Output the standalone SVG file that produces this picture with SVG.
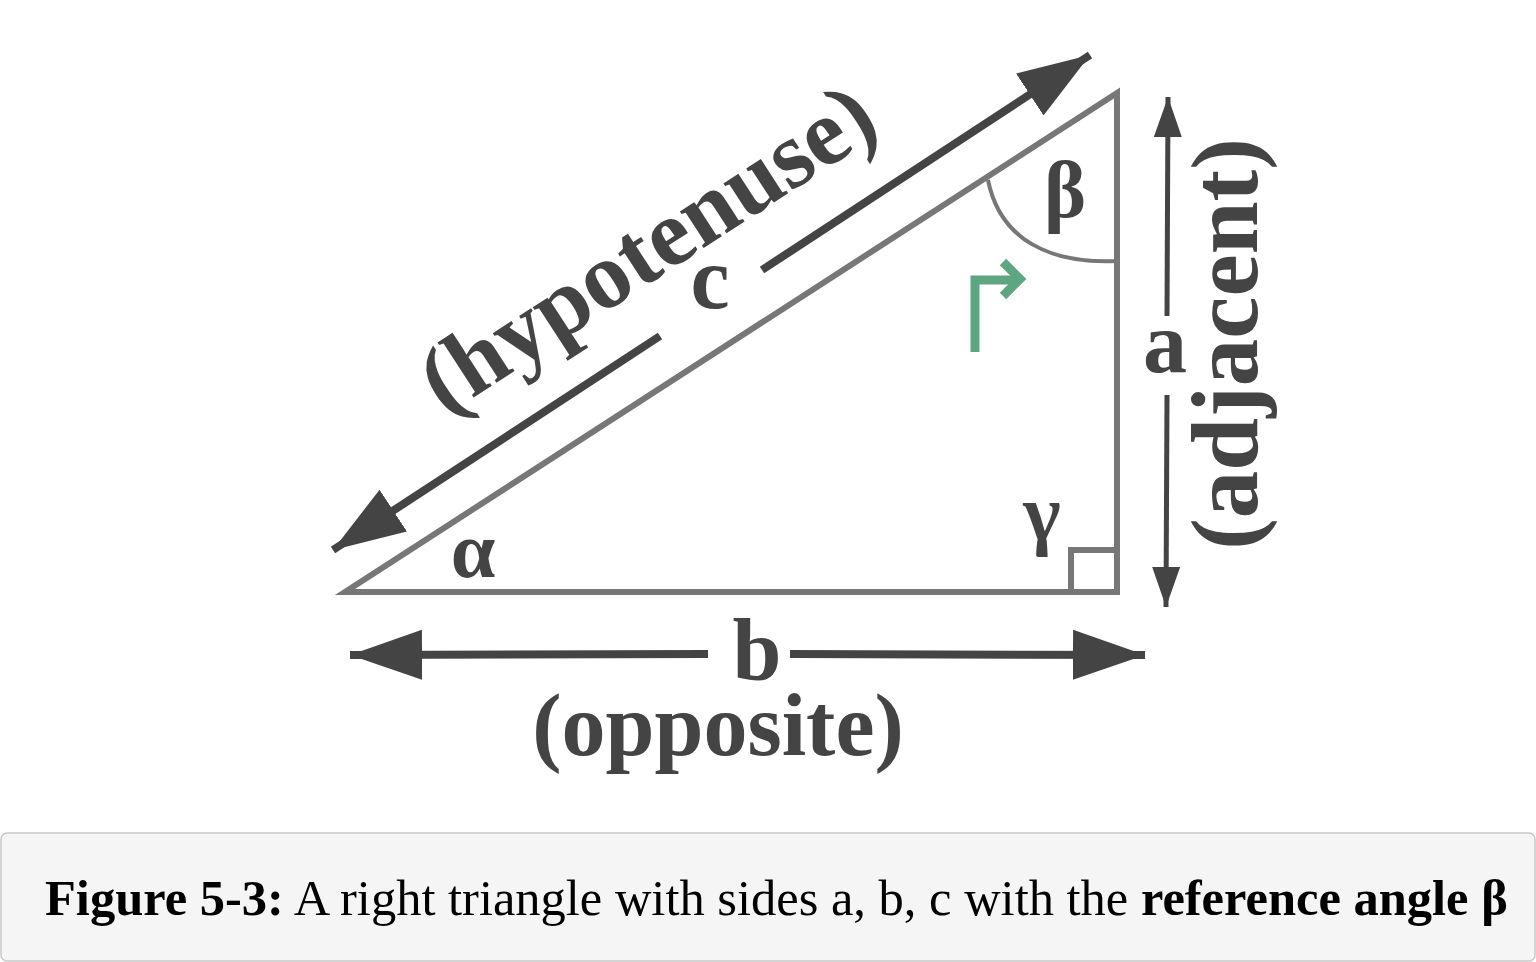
<svg xmlns="http://www.w3.org/2000/svg" width="1536" height="962" viewBox="0 0 1536 962">
<defs>
<marker id="bigHead" markerUnits="userSpaceOnUse" markerWidth="74" markerHeight="54" refX="72" refY="26" orient="auto-start-reverse" viewBox="0 0 74 52">
<path d="M0,1 L72,26 L0,51 Z" fill="#444"/>
</marker>
<marker id="smallHead" markerUnits="userSpaceOnUse" markerWidth="42" markerHeight="30" refX="40" refY="14" orient="auto-start-reverse" viewBox="0 0 42 28">
<path d="M0,0 L40,14 L0,28 Z" fill="#444"/>
</marker>
<style>
.tri{fill:none;stroke:#777;stroke-width:6}
.dim{stroke:#444;stroke-width:8;fill:none}
.dimS{stroke:#444;stroke-width:5;fill:none}
.lbl{font-family:"Liberation Serif","Times New Roman",serif;font-weight:bold;fill:#444;font-size:88px}
.big{font-size:95px}
.greek{font-family:"Liberation Serif","Times New Roman",serif;font-weight:bold;fill:#444;font-size:80px}
.cap{font-family:"Liberation Serif","Times New Roman",serif;fill:#000;font-size:50.5px}
</style>
</defs>
<rect width="1536" height="962" fill="#fff"/>
<g id="triangle">
<path class="tri" d="M345,592 L1117,93 L1117,592 Z" stroke-linejoin="miter"/>
<path class="tri" d="M1071,592 V550 H1117"/>
<path d="M988,180 C1000,240 1050,264 1117,261" fill="none" stroke="#777" stroke-width="4"/>
</g>
<g id="reference-arrow">
<path d="M975,352 V280 H1016" fill="none" stroke="#5ea681" stroke-width="9"/>
<path d="M1003,262 L1020,279 L1003,296" fill="none" stroke="#5ea681" stroke-width="9"/>
</g>
<g id="connectors">
<line class="dim" x1="660" y1="336" x2="333" y2="550" marker-end="url(#bigHead)"/>
<line class="dim" x1="762" y1="270" x2="1090" y2="55" marker-end="url(#bigHead)"/>
<line class="dim" x1="708" y1="654" x2="350" y2="655" marker-end="url(#bigHead)"/>
<line class="dim" x1="790" y1="654" x2="1145" y2="655" marker-end="url(#bigHead)"/>
<line class="dimS" x1="1167" y1="316" x2="1168" y2="97" marker-end="url(#smallHead)"/>
<line class="dimS" x1="1167" y1="395" x2="1166" y2="607" marker-end="url(#smallHead)"/>
</g>
<g id="labels">
<text class="lbl" x="710" y="308" text-anchor="middle">c</text>
<text class="lbl" x="757" y="680" text-anchor="middle">b</text>
<text class="lbl" x="1165" y="372" text-anchor="middle">a</text>
<text class="lbl" x="718" y="755" text-anchor="middle">(opposite)</text>
<text class="lbl big" transform="translate(664,274) rotate(-33)" text-anchor="middle">(hypotenuse)</text>
<text class="lbl big" transform="translate(1257,344) rotate(-90)" text-anchor="middle">(adjacent)</text>
<text class="greek" x="473" y="577" text-anchor="middle">α</text>
<text class="greek" x="1065" y="217" text-anchor="middle">β</text>
<text class="greek" x="1042" y="540" text-anchor="middle">γ</text>
</g>
<g id="caption">
<rect x="1" y="833" width="1534" height="128" rx="6" fill="#f5f5f5" stroke="#c8c8c8" stroke-width="1.5"/>
<text class="cap" x="45" y="915"><tspan font-weight="bold">Figure 5-3:</tspan> A right triangle with sides a, b, c with the <tspan font-weight="bold">reference angle β</tspan></text>
</g>
</svg>
